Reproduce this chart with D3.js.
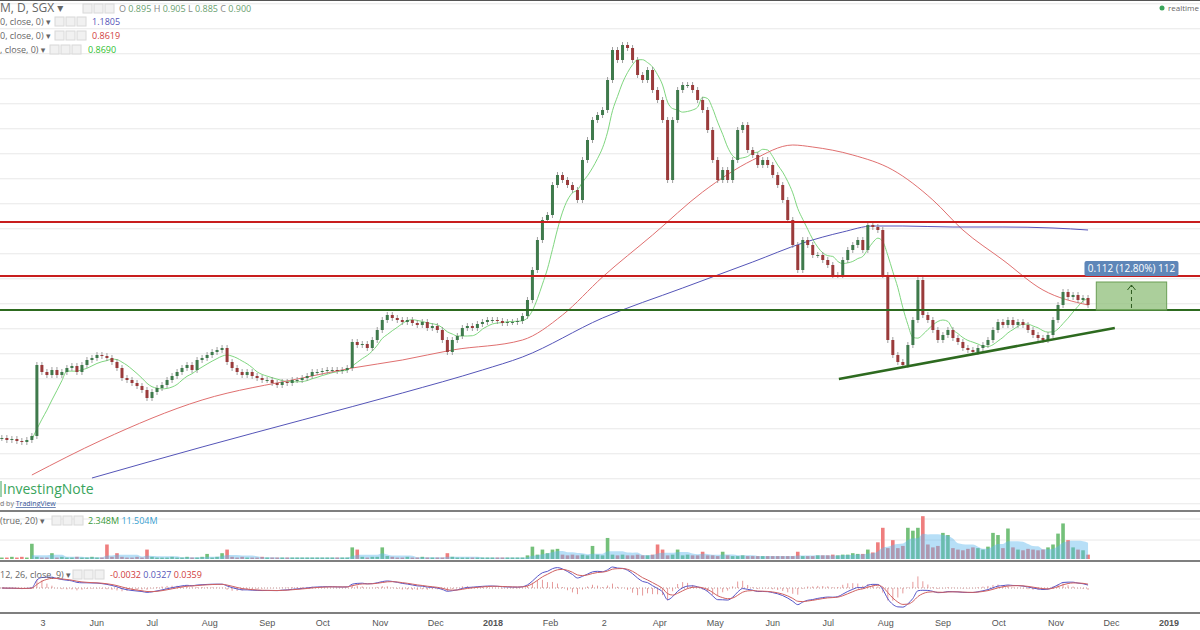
<!DOCTYPE html>
<html>
<head>
<meta charset="utf-8">
<script src="https://cdn.jsdelivr.net/npm/d3@7"></script>
<style>
  body { margin: 0; background: #fff; }
  svg { font-family: "Open Sans", "DejaVu Sans", sans-serif; }
</style>
</head>
<body>
<div id="chart"></div>
<script>
// Candle closes, one every ~2.7 calendar days starting 2017-04-10
const closes = [
  0.363,0.355,0.359,0.351,0.347,0.355,0.371,
  0.655,0.627,0.615,0.635,0.615,0.627,0.643,0.651,0.627,0.655,0.675,0.683,0.695,0.691,0.683,0.667,0.643,0.603,0.595,0.583,0.571,0.555,0.523,
  0.547,0.563,0.575,0.595,0.611,0.627,0.643,0.655,0.635,0.675,0.683,0.695,0.707,0.715,0.723,
  0.667,0.643,0.627,0.615,0.627,0.611,0.603,0.595,0.595,0.583,0.575,0.587,0.583,0.595,0.595,0.603,0.611,0.627,0.627,0.631,0.635,0.635,0.631,0.635,0.643,
  0.747,0.735,0.739,0.723,0.755,0.795,0.835,0.855,0.843,0.835,0.827,0.835,0.823,0.815,0.827,0.803,0.811,0.795,0.755,
  0.707,0.755,0.771,0.803,0.811,0.803,0.819,0.827,0.835,0.835,0.831,0.823,0.827,0.827,0.831,0.851,
  0.915,1.035,1.155,1.235,1.255,1.375,1.415,1.395,1.375,1.355,1.315,1.475,1.555,1.635,1.655,1.675,1.795,1.915,1.875,1.935,1.923,
  1.875,1.815,1.795,1.835,1.755,1.715,1.635,1.395,1.635,1.755,1.775,1.775,1.755,1.715,1.675,1.595,1.475,1.395,1.435,1.395,
  1.475,1.595,1.615,1.515,1.495,1.455,1.475,1.455,1.415,1.375,1.315,1.235,1.135,1.035,1.155,1.135,1.095,1.095,1.075,1.055,
  1.015,1.015,1.075,1.115,1.135,1.155,1.115,1.215,1.207,1.195,1.015,0.755,0.695,0.667,0.655,0.735,0.835,0.995,0.855,0.835,
  0.795,0.755,0.775,0.795,0.763,0.747,0.723,0.715,0.707,0.723,0.735,0.755,0.795,0.827,0.815,0.835,0.815,0.827,0.815,0.795,
  0.775,0.763,0.755,0.775,0.835,0.895,0.947,0.927,0.935,0.915,0.923,0.895
];
const volumes = [
  0.2,0.2,0.3,0.2,0.3,0.2,2.1,0.3,0.2,0.2,
  0.8,0.2,0.3,0.2,0.2,0.3,0.2,0.2,0.3,0.2,
  0.2,2.0,0.3,0.8,0.3,0.2,0.2,0.3,0.2,1.3,
  0.3,0.2,0.2,0.2,0.3,0.2,0.2,0.3,0.2,0.2,
  0.3,0.7,0.2,0.3,0.8,1.3,0.3,0.2,0.3,0.2,
  0.2,0.2,0.3,0.2,0.2,0.2,0.2,0.2,0.2,0.2,
  0.2,0.2,0.2,0.2,0.2,0.2,0.2,0.2,0.2,0.2,
  1.6,1.3,0.3,0.2,0.3,0.3,1.6,0.4,0.3,0.2,
  0.2,0.3,0.2,0.2,0.3,0.2,0.2,0.2,0.2,0.8,
  0.3,0.2,0.2,0.2,0.2,0.2,0.2,0.2,0.2,0.2,
  0.2,0.2,0.2,0.2,0.2,0.5,1.7,0.6,1.3,0.8,
  1.3,1.4,0.6,0.5,0.6,0.5,0.6,0.5,1.8,0.6,
  0.5,2.9,0.6,0.5,0.6,0.5,0.5,0.6,0.5,0.5,
  0.6,2.0,1.3,0.5,0.6,1.3,0.5,0.6,0.5,0.5,
  1.0,0.5,0.5,0.4,1.0,0.5,0.4,0.4,0.5,0.4,
  0.4,0.4,0.4,0.4,0.4,0.4,0.4,0.4,0.4,1.0,
  0.4,0.4,0.4,0.5,0.5,0.5,0.6,0.5,0.6,0.6,
  0.8,0.7,0.7,1.3,0.9,2.3,4.3,1.5,2.6,1.5,
  1.8,4.3,3.9,4.3,5.9,2.0,1.6,1.8,3.6,3.3,
  1.5,1.3,1.2,1.4,1.6,1.5,1.3,1.7,3.6,3.3,
  1.5,4.2,1.6,1.3,1.2,1.4,1.3,1.2,1.3,1.6,
  2.0,3.5,4.9,2.6,1.6,1.3,1.2,0.6
];
// Long moving averages (history before the window), sampled by candle index
const redMaIdx = [6,20,40,60,70,80,90,104,112,120,130,140,150,158,162,170,178,186,192,200,208,217];
const redMaVal = [0.215,0.355,0.515,0.603,0.643,0.675,0.715,0.755,0.855,1.007,1.175,1.347,1.475,1.535,1.527,1.495,1.435,1.315,1.195,1.075,0.955,0.895];
const blueMaIdx = [18,40,60,80,96,104,120,136,150,160,168,174,180,190,200,210,217];
const blueMaVal = [0.203,0.327,0.435,0.543,0.635,0.687,0.843,0.963,1.067,1.143,1.187,1.211,1.211,1.207,1.207,1.203,1.195];
// Drawn levels
const resistanceLevels = [1.227, 1.011];
const supportLevel = 0.875;
const trendLine = [{date: "2018-07-07", value: 0.599}, {date: "2018-12-03", value: 0.803}];
const measureBox = {from: "2018-11-23", to: "2018-12-31", low: 0.875, high: 0.987, label: "0.112 (12.80%) 112"};
const tickDates = ["2017-05-03","2017-06-01","2017-07-01","2017-08-01","2017-09-01","2017-10-01","2017-11-01","2017-12-01","2018-01-01","2018-02-01","2018-03-02","2018-04-01","2018-05-01","2018-06-01","2018-07-01","2018-08-01","2018-09-01","2018-10-01","2018-11-01","2018-12-01","2019-01-01"];
const tickLabels = ["3","Jun","Jul","Aug","Sep","Oct","Nov","Dec","2018","Feb","2","Apr","May","Jun","Jul","Aug","Sep","Oct","Nov","Dec","2019"];

const W = 1200, H = 630;
const parse = d3.timeParse("%Y-%m-%d");
const startDate = parse("2017-04-11");
const stepDays = 2.703;
const dateOf = i => d3.timeHour.offset(startDate, Math.round(i * stepDays * 24));

const x = d3.scaleTime().domain([parse("2017-04-10"), parse("2019-01-18")]).range([0, W]);
const y = d3.scaleLinear().domain([2.115, 0.075]).range([0, 510]);

const candles = closes.map((c, i) => ({date: dateOf(i), open: i ? closes[i - 1] : c, close: c, vol: volumes[i]}));

const svg = d3.select("#chart").append("svg").attr("width", W).attr("height", H);

// ---------- main pane ----------
svg.append("g").selectAll("line").data(d3.range(0.1, 2.11, 0.1)).join("line")
  .attr("x1", 0).attr("x2", W).attr("y1", d => y(d)).attr("y2", d => y(d))
  .attr("stroke", "#e8e8e8");

const line = d3.line().x(d => x(d.date)).y(d => y(d.value)).curve(d3.curveMonotoneX);

// green short MA computed from closes
const win = 7;
const greenMa = candles.slice(win - 1).map((d, k) => ({date: d.date, value: d3.mean(closes.slice(k, k + win))}));
svg.append("path").attr("d", line(greenMa)).attr("fill", "none").attr("stroke", "#7fd67f").attr("stroke-width", 1);
svg.append("path").attr("d", line(redMaIdx.map((i, k) => ({date: dateOf(i), value: redMaVal[k]}))))
  .attr("fill", "none").attr("stroke", "#e07070").attr("stroke-width", 1);
svg.append("path").attr("d", line(blueMaIdx.map((i, k) => ({date: dateOf(i), value: blueMaVal[k]}))))
  .attr("fill", "none").attr("stroke", "#5555b8").attr("stroke-width", 1);

// candles
const cg = svg.append("g");
candles.forEach(d => {
  const up = d.close >= d.open;
  const cx = x(d.date);
  const top = y(Math.max(d.open, d.close)), bot = y(Math.min(d.open, d.close));
  cg.append("line").attr("x1", cx).attr("x2", cx).attr("y1", top - 3).attr("y2", bot + 3)
    .attr("stroke", "#888").attr("stroke-width", 0.8);
  cg.append("rect").attr("x", cx - 1.5).attr("width", 3).attr("y", top).attr("height", Math.max(1, bot - top))
    .attr("fill", up ? "#3f7a4c" : "#9a3b3b");
});

// levels
resistanceLevels.forEach(v => svg.append("line").attr("x1", 0).attr("x2", W).attr("y1", y(v)).attr("y2", y(v))
  .attr("stroke", "#c81e1e").attr("stroke-width", 2));
svg.append("line").attr("x1", 0).attr("x2", W).attr("y1", y(supportLevel)).attr("y2", y(supportLevel))
  .attr("stroke", "#2d6a1f").attr("stroke-width", 2);
svg.append("line")
  .attr("x1", x(parse(trendLine[0].date))).attr("y1", y(trendLine[0].value))
  .attr("x2", x(parse(trendLine[1].date))).attr("y2", y(trendLine[1].value))
  .attr("stroke", "#2d6a1f").attr("stroke-width", 2.5);

// measure box
const bx0 = x(parse(measureBox.from)), bx1 = x(parse(measureBox.to));
svg.append("rect").attr("x", bx0).attr("width", bx1 - bx0).attr("y", y(measureBox.high))
  .attr("height", y(measureBox.low) - y(measureBox.high))
  .attr("fill", "#8fbf7a").attr("fill-opacity", 0.75).attr("stroke", "#6a9e55");
const bmx = (bx0 + bx1) / 2;
svg.append("line").attr("x1", bmx).attr("x2", bmx).attr("y1", y(measureBox.low) - 2).attr("y2", y(measureBox.high) + 3)
  .attr("stroke", "#2d5a1f").attr("stroke-dasharray", "4,3");
svg.append("path").attr("d", `M${bmx - 4},${y(measureBox.high) + 8}L${bmx},${y(measureBox.high) + 3}L${bmx + 4},${y(measureBox.high) + 8}`)
  .attr("fill", "none").attr("stroke", "#2d5a1f");
svg.append("rect").attr("x", bmx - 47).attr("y", y(measureBox.high) - 21).attr("width", 94).attr("height", 15)
  .attr("rx", 2).attr("fill", "#5e86b8");
svg.append("text").attr("x", bmx).attr("y", y(measureBox.high) - 10).attr("text-anchor", "middle")
  .attr("fill", "#fff").attr("font-size", 10).text(measureBox.label);

// header legends
function icons(x0, yy) {
  [0, 11, 22].forEach(o => svg.append("rect").attr("x", x0 + o).attr("y", yy - 8).attr("width", 9).attr("height", 9)
    .attr("fill", "#f1f1f1").attr("stroke", "#d8d8d8"));
}
const legends = [
  {y: 12, label: "M, D, SGX ▾", size: 12, ix: 83, vx: 119, parts: [["O ", "#888"], ["0.895 ", "#6aa070"], ["H ", "#888"], ["0.905 ", "#6aa070"], ["L ", "#888"], ["0.885 ", "#6aa070"], ["C ", "#888"], ["0.900", "#6aa070"]]},
  {y: 25, label: "0, close, 0) ▾", size: 9, ix: 55, vx: 92, parts: [["1.1805", "#5555b8"]]},
  {y: 39, label: "0, close, 0) ▾", size: 9, ix: 55, vx: 92, parts: [["0.8619", "#d04040"]]},
  {y: 53, label: ", close, 0) ▾", size: 9, ix: 50, vx: 88, parts: [["0.8690", "#2fbf2f"]]}
];
legends.forEach(l => {
  svg.append("text").attr("x", 0).attr("y", l.y).attr("font-size", l.size).attr("fill", "#666").text(l.label);
  icons(l.ix, l.y);
  const t = svg.append("text").attr("x", l.vx).attr("y", l.y).attr("font-size", 9);
  l.parts.forEach(p => t.append("tspan").attr("fill", p[1]).text(p[0]));
});
svg.append("circle").attr("cx", 1162).attr("cy", 8).attr("r", 2.5).attr("fill", "#3aa55a");
svg.append("text").attr("x", 1168).attr("y", 11).attr("font-size", 8).attr("fill", "#666").text("realtime");
svg.append("text").attr("x", 3).attr("y", 494).attr("font-size", 14).attr("fill", "#3aa45c").text("InvestingNote");
svg.append("line").attr("x1", 1).attr("x2", 1).attr("y1", 481).attr("y2", 497).attr("stroke", "#3aa45c");
svg.append("text").attr("x", 0).attr("y", 506).attr("font-size", 7).attr("fill", "#777").text("d by ")
  .append("tspan").attr("fill", "#335599").attr("text-decoration", "underline").text("TradingView");

// ---------- volume pane ----------
const vy = d3.scaleLinear().domain([0, 6.2]).range([559, 514]);
[519, 540].forEach(g => svg.append("line").attr("x1", 0).attr("x2", W).attr("y1", g).attr("y2", g).attr("stroke", "#e8e8e8"));
const volMa = candles.slice(win - 1).map((d, k) => ({date: d.date, value: d3.mean(volumes.slice(k, k + win))}));
svg.append("g").selectAll("rect").data(candles).join("rect")
  .attr("x", d => x(d.date) - 1.8).attr("width", 3.6)
  .attr("y", d => vy(d.vol)).attr("height", d => vy(0) - vy(d.vol))
  .attr("fill", d => d.close >= d.open ? "#74c07a" : "#ef7e7e");
svg.append("path").attr("d", d3.area().x(d => x(d.date)).y0(vy(0)).y1(d => vy(d.value)).curve(d3.curveMonotoneX)(volMa))
  .attr("fill", "#5fb8ee").attr("fill-opacity", 0.45);
svg.append("text").attr("x", 0).attr("y", 524).attr("font-size", 9).attr("fill", "#666").text("(true, 20) ▾");
icons(52, 524);
svg.append("text").attr("x", 88).attr("y", 524).attr("font-size", 9)
  .call(t => { t.append("tspan").attr("fill", "#3a9a3a").text("2.348M "); t.append("tspan").attr("fill", "#3aa0d0").text("11.504M"); });

// ---------- MACD pane (computed from closes, periods scaled to candle step) ----------
function ema(arr, n) { const a = 2 / (n + 1); let e = arr[0]; return arr.map(v => (e = a * v + (1 - a) * e)); }
const fast = ema(closes, 12 / stepDays), slow = ema(closes, 26 / stepDays);
const macd = fast.map((f, i) => f - slow[i]);
const signal = ema(macd, 9 / stepDays);
const mext = d3.max(macd.map(Math.abs));
const my = d3.scaleLinear().domain([-mext, mext]).range([609, 567]);
svg.append("line").attr("x1", 0).attr("x2", x(candles[candles.length - 1].date)).attr("y1", my(0)).attr("y2", my(0))
  .attr("stroke", "#c09090").attr("stroke-dasharray", "1,2");
svg.append("g").selectAll("line").data(candles).join("line")
  .attr("x1", d => x(d.date)).attr("x2", d => x(d.date))
  .attr("y1", my(0)).attr("y2", (d, i) => my((macd[i] - signal[i]) * 2))
  .attr("stroke", "#e08080").attr("stroke-width", 0.8);
const mline = d3.line().x((d, i) => x(candles[i].date)).y(d => my(d)).curve(d3.curveMonotoneX);
svg.append("path").attr("d", mline(macd)).attr("fill", "none").attr("stroke", "#5555c8");
svg.append("path").attr("d", mline(signal)).attr("fill", "none").attr("stroke", "#d06060");
svg.append("text").attr("x", 0).attr("y", 578).attr("font-size", 9).attr("fill", "#666").text("12, 26, close, 9) ▾");
icons(73, 578);
svg.append("text").attr("x", 110).attr("y", 578).attr("font-size", 9)
  .call(t => { t.append("tspan").attr("fill", "#d04040").text("-0.0032 "); t.append("tspan").attr("fill", "#5555b8").text("0.0327 "); t.append("tspan").attr("fill", "#d04040").text("0.0359"); });

// pane separators
[0, 511, 561, 613].forEach(s => svg.append("line").attr("x1", 0).attr("x2", W).attr("y1", s).attr("y2", s)
  .attr("stroke", "#555").attr("stroke-width", s ? 1.5 : 2));

// ---------- time axis ----------
const axis = svg.append("g").attr("transform", "translate(0,613)")
  .call(d3.axisBottom(x).tickValues(tickDates.map(parse)).tickSize(0).tickFormat((d, i) => tickLabels[i]));
axis.select(".domain").remove();
axis.selectAll("text").attr("dy", 10).attr("font-size", 9).attr("fill", "#555")
  .attr("font-weight", (d, i) => tickLabels[i].length === 4 && /^\d+$/.test(tickLabels[i]) ? "bold" : null);
</script>
</body>
</html>
